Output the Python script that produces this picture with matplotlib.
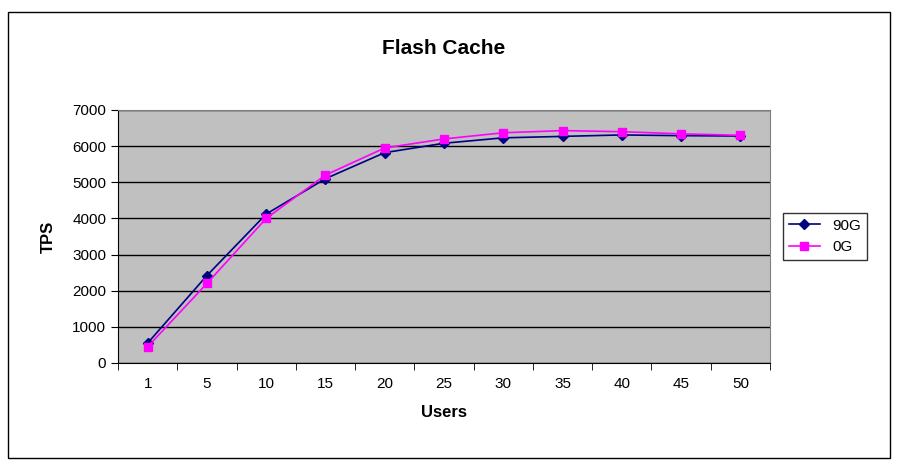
import matplotlib.pyplot as plt
from matplotlib.patches import Rectangle

plt.rcParams['font.family'] = ['Liberation Sans', 'DejaVu Sans']

users = ["1", "5", "10", "15", "20", "25", "30", "35", "40", "45", "50"]
tps_90g = [550, 2420, 4120, 5100, 5820, 6080, 6230, 6270, 6310, 6290, 6280]
tps_0g = [450, 2200, 4000, 5200, 5950, 6200, 6370, 6430, 6400, 6340, 6300]

fig = plt.figure(figsize=(8.98, 4.70), dpi=100)
fig.patches.append(Rectangle((8/898, 12/470), 882/898, 446/470, transform=fig.transFigure,
                             fill=False, edgecolor="black", linewidth=1))

ax = fig.add_axes([118/898, 1-363/470, 652/898, 253/470])
ax.set_facecolor("#c0c0c0")
x = list(range(len(users)))
ax.plot(x, tps_90g, color="#000080", marker="D", markersize=5, linewidth=1.2, label="90G")
ax.plot(x, tps_0g, color="#ff00ff", marker="s", markersize=6, linewidth=1.2, label="0G")

ax.set_xlim(-0.5, len(users) - 0.5)
ax.set_ylim(0, 7000)
ax.set_yticks(range(0, 7001, 1000))
ax.yaxis.grid(True, color="black", linewidth=1)
ax.set_axisbelow(True)
ax.set_xticks(x)
ax.set_xticklabels(users)
ax.set_xticks([i + 0.5 for i in range(-1, len(users))], minor=True)
ax.tick_params(axis="x", which="major", length=0, pad=10)
ax.tick_params(axis="x", which="minor", length=5)
ax.tick_params(axis="y", length=5)
ax.tick_params(labelsize=11)
for s in ["top", "right"]:
    ax.spines[s].set_color("#808080")
ax.set_xlabel("Users", fontsize=12, fontweight="bold", labelpad=10)
ax.set_ylabel("TPS", fontsize=12, fontweight="bold", labelpad=12)
ax.set_title("Flash Cache", fontsize=15, fontweight="bold", pad=40)

ax.legend(loc="center left", bbox_to_anchor=(1.02, 0.5), frameon=True, fancybox=False,
          edgecolor="black", fontsize=11, handlelength=2, borderaxespad=0)

fig.savefig("out.png")
